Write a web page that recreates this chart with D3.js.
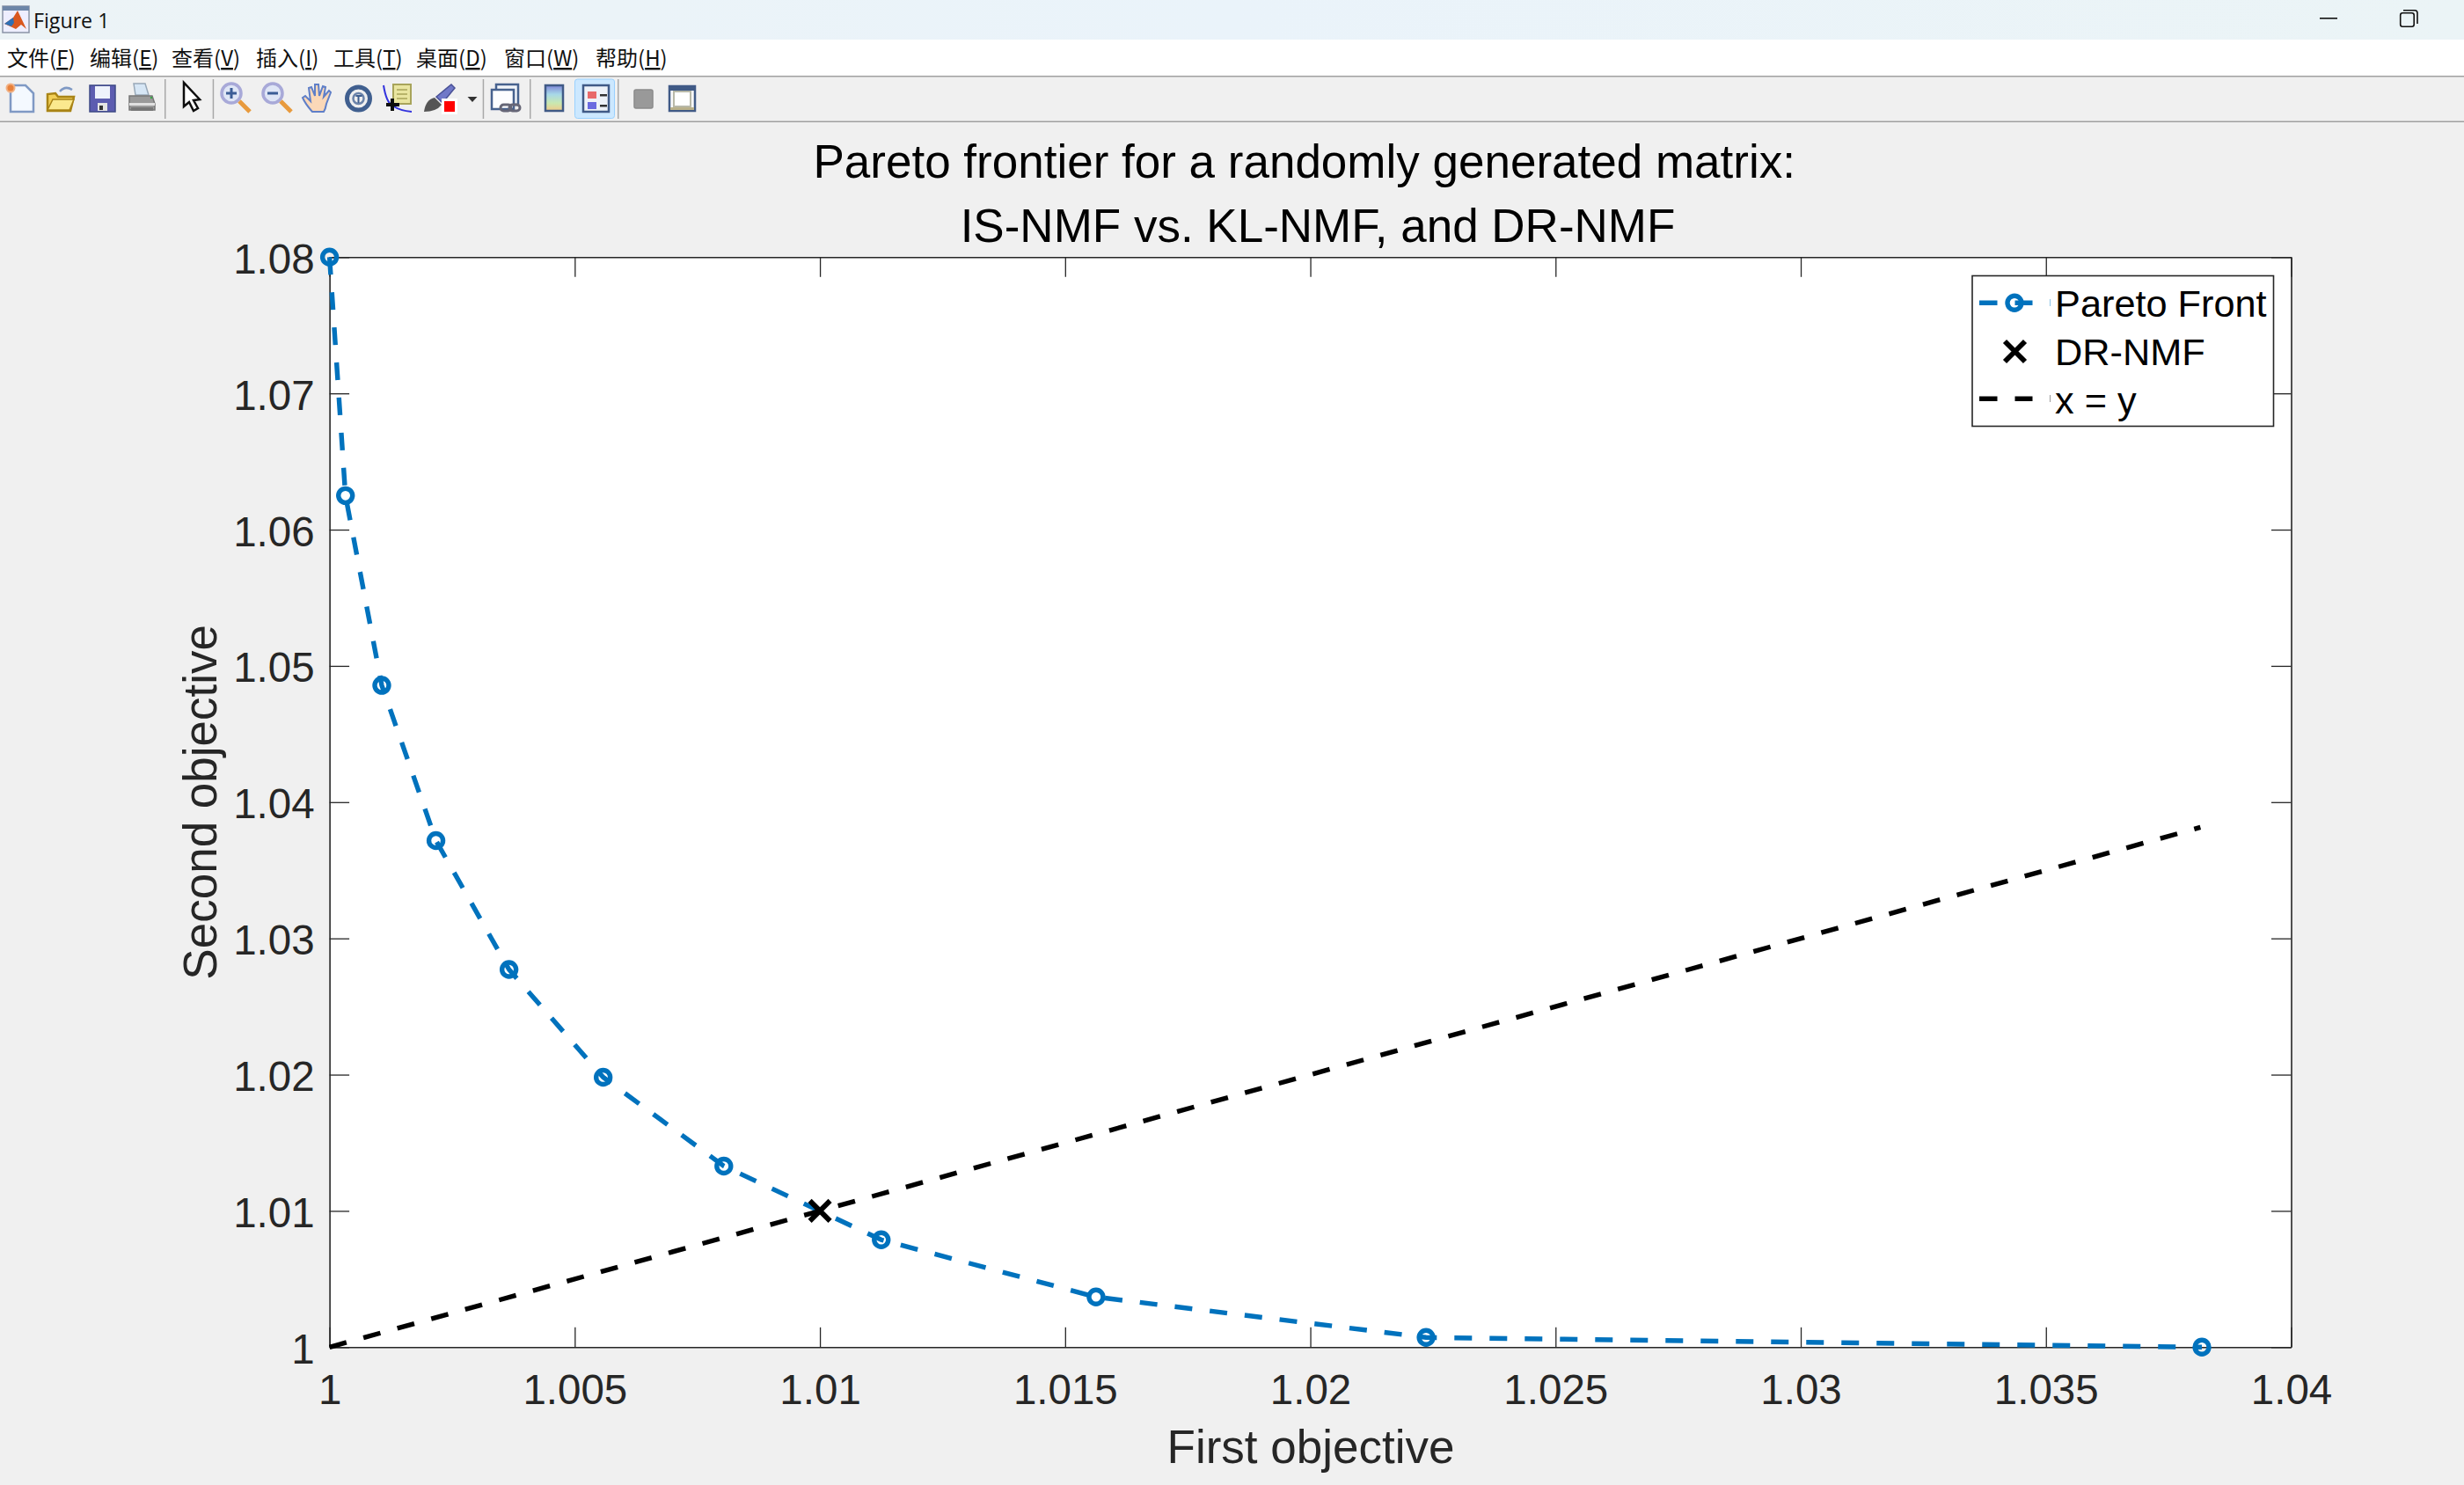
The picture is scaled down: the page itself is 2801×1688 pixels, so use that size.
<!DOCTYPE html>
<html><head><meta charset="utf-8">
<script src="https://cdn.jsdelivr.net/npm/d3@7"></script>
<style>html,body{margin:0;padding:0;background:#f0f0f0;overflow:hidden}svg{display:block}</style>
</head><body><svg id="c" width="2801" height="1688"></svg>
<script>
const paretoX=[1.0000,1.000325,1.001065,1.00217,1.00366,1.00558,1.00804,1.01125,1.01563,1.02236,1.03818];
const paretoY=[1.0800,1.0625,1.04857,1.03718,1.02772,1.01981,1.01329,1.00788,1.00368,1.00071,1.0000];
const identityEnds=[1.0000,1.03815];
const drNmf=[[1.0100,1.0100]];
const xTicks=[1,1.005,1.01,1.015,1.02,1.025,1.03,1.035,1.04];
const yTicks=[1,1.01,1.02,1.03,1.04,1.05,1.06,1.07,1.08];
const titleLines=["Pareto frontier for a randomly generated matrix:","IS-NMF vs. KL-NMF, and DR-NMF"];
const legendLabels=["Pareto Front","DR-NMF","x = y"];
const menuItems=[["文件","F"],["编辑","E"],["查看","V"],["插入","I"],["工具","T"],["桌面","D"],["窗口","W"],["帮助","H"]];
const menuStarts=[8,102,195,291,379,473,573,677];

const SANS='"Liberation Sans",Arial,sans-serif', INK='#262626', BLUE='#0072BD', LW=5.4;
const svg=d3.select('#c');
const defs=svg.append('defs');
const gr=defs.append('linearGradient').attr('id','tb');
gr.append('stop').attr('offset','0').attr('stop-color','#ecf3f6');
gr.append('stop').attr('offset','.5').attr('stop-color','#eaf3fa');
gr.append('stop').attr('offset','1').attr('stop-color','#ebf4f6');
defs.append('filter').attr('id','soft').append('feGaussianBlur').attr('stdDeviation',0.6);

/* window chrome */
svg.append('rect').attr('width',2801).attr('height',1688).attr('fill','#f0f0f0');
svg.append('rect').attr('width',2801).attr('height',45).attr('fill','url(#tb)');
svg.append('rect').attr('y',45).attr('width',2801).attr('height',41).attr('fill','#fff');
svg.append('rect').attr('y',86).attr('width',2801).attr('height',1.5).attr('fill','#a0a0a0');
svg.append('rect').attr('y',137.5).attr('width',2801).attr('height',1.5).attr('fill','#a0a0a0');
svg.append('text').attr('x',38).attr('y',32).attr('font-family','"Open Sans",sans-serif').attr('font-size',23.2).attr('fill','#111').text('Figure 1');
const app=svg.append('g');
app.append('rect').attr('x',3).attr('y',7).attr('width',30).attr('height',30).attr('fill','#eef').attr('stroke','#8a94a6').attr('stroke-width',1.5);
app.append('rect').attr('x',3).attr('y',7).attr('width',30).attr('height',5).attr('fill','#6d86a8');
app.append('path').attr('d','M5 27 L15 20 L20 12 L30 33 L24 28 L18 33 Z').attr('fill','#d9581f');
app.append('path').attr('d','M5 27 L15 20 L16 26 L13 30 Z').attr('fill','#2d6fb5');
svg.append('rect').attr('x',2637).attr('y',20).attr('width',20).attr('height',1.6).attr('fill','#111');
svg.append('rect').attr('x',2728.7).attr('y',14.7).attr('width',15.5).attr('height',15.5).attr('rx',2.5).attr('fill','none').attr('stroke','#111').attr('stroke-width',1.6);
svg.append('path').attr('d','M2732 11.8 H2745 Q2748 11.8 2748 15 V27').attr('fill','none').attr('stroke','#111').attr('stroke-width',1.6);

/* menu */
const menu=svg.append('g').attr('font-family','"Noto Sans CJK SC",sans-serif').attr('font-size',24).attr('fill','#111');
menuItems.forEach((m,i)=>{
  const tx=menu.append('text').attr('x',menuStarts[i]).attr('y',75).text(m[0]+'(');
  tx.append('tspan').attr('text-decoration','underline').text(m[1]);
  tx.append('tspan').text(')');
});

/* toolbar */
const tb=svg.append('g');
[187,241.7,548.7,602,702].forEach(x=>tb.append('rect').attr('x',x).attr('y',90).attr('width',1.5).attr('height',45).attr('fill','#a8a8a8'));
tb.append('rect').attr('x',653.5).attr('y',90).attr('width',45).attr('height',44.5).attr('rx',3).attr('fill','#cce8ff').attr('stroke','#99d1ff').attr('stroke-width',1);
const ic=tb.append('g').attr('filter','url(#soft)');
function icon(cx,draw){const g=ic.append('g').attr('transform',`translate(${cx},112)`);draw(g);}
const P=(g,d,f,s,w)=>g.append('path').attr('d',d).attr('fill',f||'none').attr('stroke',s||'none').attr('stroke-width',w||1);
const R=(g,x,y,w,h,f,s,sw)=>g.append('rect').attr('x',x).attr('y',y).attr('width',w).attr('height',h).attr('fill',f||'none').attr('stroke',s||'none').attr('stroke-width',sw||1);
const C=(g,x,y,r,f,s,sw)=>g.append('circle').attr('cx',x).attr('cy',y).attr('r',r).attr('fill',f||'none').attr('stroke',s||'none').attr('stroke-width',sw||1);
icon(23,g=>{P(g,'M-11 -15 H6 L15 -6 V15 H-11 Z','#f4f9ff','#7f99c4',2.5);C(g,-11,-12,4.5,'#e8813a','#f2b184',2);});
icon(68,g=>{P(g,'M-14 -5 V14 H12 L16 -2 H-2 L-5 -6 Z','#f2cf57','#a98417',2.5);P(g,'M-14 13 L-8 1 H16 L11 13 Z','#fbe98e','#a98417',1.5);P(g,'M0 -8 Q6 -15 14 -10','none','#7f99c4',2.5);});
icon(116,g=>{R(g,-14,-15,29,30,'#5b5bb0','#3e4a86',1.5);R(g,-8,-14,17,14,'#eef2fb');R(g,-5,5,11,9,'#e4e4e4');R(g,-3,8,4,5,'#333');});
icon(161,g=>{P(g,'M-9 -17 H4 L8 -4 H-7 Z','#d6e6f5','#98a8b8',1.5);P(g,'M-14 -3 H12 L15 6 V13 H-14 Z','#9a9a9a','#777',1.5);R(g,-14,5,29,3,'#e0e0e0');R(g,-12,10,25,4,'#777');C(g,11,-1,1.2,'#39a845');});
icon(216,g=>{P(g,'M-7 -18 V9 L-1 4 L4 14 L9 11 L4 2 L11 1 Z','#fff','#111',2.5);});
function mag(g,sign){C(g,-5,-6,11,'#dfe6f6','#a8a9d8',3.5);P(g,'M-11 -6 H1','none','#3a5d96',3);if(sign)P(g,'M-5 -12 V0','none','#3a5d96',3);P(g,'M4 3 L16 15','none','#e89a3c',5);}
icon(268,g=>mag(g,true));icon(315,g=>mag(g,false));
icon(361,g=>{P(g,'M-6 15 Q-14 6 -17 -1 L-14 -3 L-8 3 L-10 -12 L-7 -13 L-3 -3 L-3 -16 L1 -16 L2 -3 L6 -14 L9 -13 L7 -2 L13 -9 L15 -7 L10 6 Q9 12 7 15 Z','#fbd8b8','#5f7fc8',2);});
icon(407.5,g=>{C(g,0,0,13,'none','#3f5f8f',5);C(g,0,0,6,'none','#6c84aa',2.5);P(g,'M-3 -3 H4 M0 -3 V5','none','#3f5f8f',2);});
icon(452,g=>{R(g,-5,-16,20,22,'#e9e5a0','#a8a45a',2);P(g,'M-1 -10 H11 M-1 -5 H11 M-1 0 H11','none','#a8a45a',1.5);P(g,'M-16 -15 Q-13 4 -6 8 Q3 14 16 15','none','#3333dd',2);P(g,'M-6 0 V14 M-13 7 H2','none','#111',4);});
icon(500,g=>{P(g,'M-4 -2 L13 -16 L17 -12 L3 5 Z','#6f78c8','#4a5196',1.5);P(g,'M-18 15 Q-16 1 -6 -1 L2 7 Q-4 15 -18 15 Z','#555');R(g,2,0,18,18,'#fff');R(g,5,3,12,12,'#f00');});
icon(537,g=>{P(g,'M-5.5 -2 H5.5 L0 4 Z','#333');});
icon(576,g=>{R(g,-12,-16,25,23,'#f2f5fa','#46628e',2.5);R(g,-17,-10,25,22,'#fdfdff','#46628e',2.5);R(g,-7,7,12,7,'none','#667',3).attr('rx',3.5);R(g,3,7,12,7,'none','#667',3).attr('rx',3.5);});
const cb=defs.append('linearGradient').attr('id','cb').attr('x2',0).attr('y2',1);
[['0','#7f86d8'],['.35','#a7d8e8'],['.7','#c9e8b0'],['1','#f2c988']].forEach(s=>cb.append('stop').attr('offset',s[0]).attr('stop-color',s[1]));
icon(630,g=>{R(g,-10,-15,20,29,'url(#cb)','#3f5a86',2.5);});
icon(677,g=>{R(g,-14,-15,29,30,'#eef2f8','#3f5a86',2.5);R(g,-9,-8,10,8,'#e86a6a');R(g,-9,4,10,8,'#6a6ae0');R(g,5,-5,8,2.5,'#333');R(g,5,7,8,2.5,'#333');});
icon(731,g=>{R(g,-10,-10,21,21,'#999','#8a8a8a',1.5).attr('rx',2);});
icon(775,g=>{R(g,-14,-14,29,28,'#f8f8f8','#3f5a86',2.5);R(g,-14,-14,29,5,'#3f5a86');R(g,-9,-8,19,17,'#fff','#b8b8a8',2);R(g,-13,10,27,3,'#b9b08a');});

/* plot */
const L=374.6,Rr=2604.5,T=292.3,B=1531.3;
const x=d3.scaleLinear().domain([1,1.04]).range([L,Rr]);
const y=d3.scaleLinear().domain([1,1.08]).range([B,T]);
svg.append('rect').attr('x',L).attr('y',T).attr('width',Rr-L).attr('height',B-T).attr('fill','#fff');

const fmt=v=>String(+v.toFixed(3));
function styleAxis(g){g.selectAll('path.domain').attr('stroke',INK).attr('stroke-width',1.6);
  g.selectAll('line').attr('stroke',INK).attr('stroke-width',1.3);
  g.selectAll('text').attr('fill',INK).attr('font-family',SANS).attr('font-size',47.5);}
const axB=svg.append('g').attr('transform',`translate(0,${B})`).call(d3.axisBottom(x).tickValues(xTicks).tickSize(-22.5).tickSizeOuter(0).tickFormat(fmt).tickPadding(24));
const axT=svg.append('g').attr('transform',`translate(0,${T})`).call(d3.axisTop(x).tickValues(xTicks).tickSize(-22.5).tickSizeOuter(0).tickFormat(''));
const axL=svg.append('g').attr('transform',`translate(${L},0)`).call(d3.axisLeft(y).tickValues(yTicks).tickSize(-22.5).tickSizeOuter(0).tickFormat(fmt).tickPadding(17));
const axR=svg.append('g').attr('transform',`translate(${Rr},0)`).call(d3.axisRight(y).tickValues(yTicks).tickSize(-22.5).tickSizeOuter(0).tickFormat(''));
[axB,axT,axL,axR].forEach(styleAxis);
axB.selectAll('text').attr('dy',0).attr('y',64.4);
axL.selectAll('text').attr('dy',0).attr('y',18);

const lineGen=d3.line().x(d=>x(d[0])).y(d=>y(d[1]));
const pareto=paretoX.map((v,i)=>[v,paretoY[i]]);
const marks=svg.append('g');
marks.append('path').datum(pareto).attr('d',lineGen).attr('fill','none').attr('stroke',BLUE).attr('stroke-width',LW).attr('stroke-dasharray','20 20');
marks.selectAll('circle.p').data(pareto).join('circle').attr('class','p').attr('cx',d=>x(d[0])).attr('cy',d=>y(d[1])).attr('r',8).attr('fill','none').attr('stroke',BLUE).attr('stroke-width',LW);
marks.append('path').datum(identityEnds.map(v=>[v,v])).attr('d',lineGen).attr('fill','none').attr('stroke','#000').attr('stroke-width',LW).attr('stroke-dasharray','20 20');
function cross(g,cx,cy,s){g.append('path').attr('d',`M${cx-s} ${cy-s} L${cx+s} ${cy+s} M${cx-s} ${cy+s} L${cx+s} ${cy-s}`).attr('stroke','#000').attr('stroke-width',5.8).attr('fill','none');}
drNmf.forEach(d=>cross(marks,x(d[0]),y(d[1]),11.5));

/* titles */
const t=svg.append('g').attr('font-family',SANS).attr('font-size',53).attr('fill','#000').attr('text-anchor','middle');
t.append('text').attr('x',1482.7).attr('y',201.7).text(titleLines[0]);
t.append('text').attr('x',1498).attr('y',275).text(titleLines[1]);
svg.append('text').attr('x',1490).attr('y',1663).attr('text-anchor','middle').attr('font-family',SANS).attr('font-size',53).attr('fill',INK).text('First objective');
svg.append('text').attr('transform','translate(246,911.8) rotate(-90)').attr('text-anchor','middle').attr('font-family',SANS).attr('font-size',53).attr('fill',INK).text('Second objective');

/* legend */
const lg=svg.append('g');
lg.append('rect').attr('x',2242).attr('y',313.5).attr('width',342.5).attr('height',171).attr('fill','#fff').attr('stroke',INK).attr('stroke-width',1.6);
const lx=[2250,2310.5];
lg.append('line').attr('x1',lx[0]).attr('x2',lx[1]).attr('y1',344.3).attr('y2',344.3).attr('stroke',BLUE).attr('stroke-width',LW).attr('stroke-dasharray','20.5 20');
lg.append('circle').attr('cx',2290).attr('cy',344.3).attr('r',8).attr('fill','none').attr('stroke',BLUE).attr('stroke-width',LW);
cross(lg,2290.5,399.5,11.5);
lg.append('line').attr('x1',lx[0]).attr('x2',lx[1]).attr('y1',453.3).attr('y2',453.3).attr('stroke','#000').attr('stroke-width',LW).attr('stroke-dasharray','20.5 20');
lg.append('rect').attr('x',2330).attr('y',340).attr('width',1).attr('height',8).attr('fill','#8cc4e6');
lg.append('rect').attr('x',2330).attr('y',449).attr('width',1).attr('height',8).attr('fill','#999');
const ly=[360,415,470];
legendLabels.forEach((s,i)=>lg.append('text').attr('x',2336).attr('y',ly[i]).attr('font-family',SANS).attr('font-size',43.3).attr('fill','#000').text(s));
</script></body></html>
